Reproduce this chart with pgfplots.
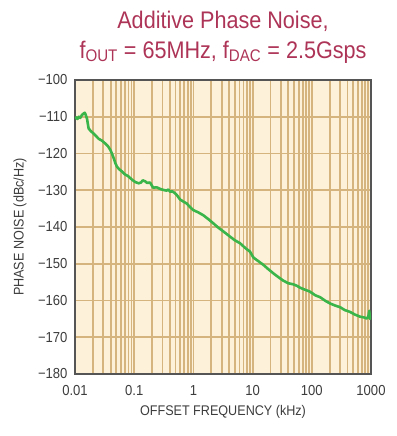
\documentclass[border=0pt]{standalone}
\usepackage{pgfplots}
\pgfplotsset{compat=1.18}
\usepackage{fontspec}
\setmainfont[FakeStretch=0.9]{Liberation Sans}
\definecolor{bgcream}{RGB}{254,241,217}
\definecolor{gridtan}{RGB}{214,180,126}
\definecolor{curvegreen}{RGB}{57,181,74}
\definecolor{titlered}{RGB}{173,52,87}
\definecolor{txtgray}{RGB}{60,60,60}
\definecolor{framegray}{RGB}{85,85,85}
\begin{document}
\begin{tikzpicture}
\begin{axis}[
  name=ax,
  scale only axis,
  width=296pt, height=294pt,
  xmode=log,
  xmin=0.01, xmax=1000,
  ymin=-180, ymax=-100,
  xtick={0.01,0.1,1,10,100,1000},
  xticklabels={0.01,0.1,1,10,100,1000},
  ytick={-180,-170,-160,-150,-140,-130,-120,-110,-100},
  yticklabels={−180,−170,−160,−150,−140,−130,−120,−110,−100},
  minor xtick={0.02,0.03,0.04,0.05,0.06,0.07,0.08,0.09,
               0.2,0.3,0.4,0.5,0.6,0.7,0.8,0.9,
               2,3,4,5,6,7,8,9,
               20,30,40,50,60,70,80,90,
               200,300,400,500,600,700,800,900},
  grid=both,
  major grid style={draw=gridtan, line width=1.8pt},
  minor grid style={draw=gridtan, line width=1.8pt},
  major tick length=0pt, minor tick length=0pt,
  axis background/.style={fill=bgcream},
  axis line style={draw=framegray, line width=1.2pt},
  tick label style={font=\fontsize{14.5}{16}\selectfont, text=txtgray},
  xticklabel style={yshift=-8pt},
  yticklabel style={xshift=-4pt},
  xlabel={OFFSET FREQUENCY (kHz)},
  ylabel={PHASE NOISE (dBc/Hz)},
  every axis x label/.style={at={(axis description cs:0.5,-0.129)}, anchor=center, font=\fontsize{14}{16}\selectfont, text=txtgray},
  every axis y label/.style={at={(axis description cs:-0.186,0.5)}, anchor=center, rotate=90, font=\fontsize{14}{16}\selectfont, text=txtgray},
  clip=true,
]
\addplot[curvegreen, line width=2.6pt, line join=round] coordinates {
(0.0100,-110.5) (0.0105,-110.2) (0.0110,-110.6) (0.0116,-110.0) (0.0123,-110.3)
(0.0130,-109.6) (0.0138,-109.2) (0.0146,-108.9) (0.0152,-109.5) (0.0160,-110.6)
(0.0165,-112.0) (0.0170,-113.2) (0.0185,-113.9) (0.0207,-114.6) (0.0228,-115.3)
(0.0251,-116.0) (0.0285,-116.5) (0.0325,-117.3) (0.0360,-118.0) (0.0395,-119.0)
(0.0425,-120.2) (0.0451,-121.3) (0.0480,-122.6) (0.0512,-123.6) (0.0560,-124.3)
(0.0622,-124.9) (0.0700,-125.7) (0.0780,-126.1) (0.0859,-126.7) (0.0950,-127.3)
(0.1050,-127.8) (0.119,-128.1) (0.130,-127.9) (0.140,-127.3) (0.154,-127.6)
(0.165,-128.0) (0.185,-127.9) (0.200,-128.8) (0.210,-129.3) (0.240,-129.2)
(0.270,-129.6) (0.310,-129.9) (0.350,-130.1) (0.380,-129.8) (0.402,-130.4)
(0.440,-130.3) (0.489,-130.8) (0.530,-131.4) (0.594,-132.5) (0.680,-133.1)
(0.771,-133.6) (0.880,-134.6) (0.996,-135.4) (1.2,-136.0) (1.47,-136.8)
(1.8,-137.9) (2.17,-139.0) (2.6,-140.1) (3.2,-141.2) (4.15,-142.6)
(5.0,-143.6) (6.12,-144.4) (7.5,-145.7) (9.03,-146.7) (10.3,-148.3)
(12.5,-149.3) (15.2,-150.3) (18.5,-151.5) (22.4,-152.6) (27,-153.6)
(33,-154.6) (40,-155.3) (48.7,-155.6) (56,-156.0) (63.2,-156.5)
(75,-157.0) (93.3,-157.6) (115,-158.6) (138,-159.1) (170,-160.1)
(203,-160.8) (250,-161.4) (299,-161.8) (360,-162.6) (442,-163.1)
(530,-163.8) (652,-164.4) (760,-164.6) (846,-164.9) (900,-164.4)
(935,-162.8) (962,-165.0) (1000,-164.2)
};
\end{axis}
\node[align=center, text=titlered, font=\fontsize{24}{30}\selectfont, anchor=base]
  at ([yshift=22pt]ax.north) {Additive Phase Noise,\\f\textsubscript{OUT} = 65MHz, f\textsubscript{DAC} = 2.5Gsps};
\pgfresetboundingbox
\path[use as bounding box] ([xshift=-75pt,yshift=-62pt]ax.south west) rectangle ([xshift=25pt,yshift=80pt]ax.north east);
\end{tikzpicture}
\end{document}
